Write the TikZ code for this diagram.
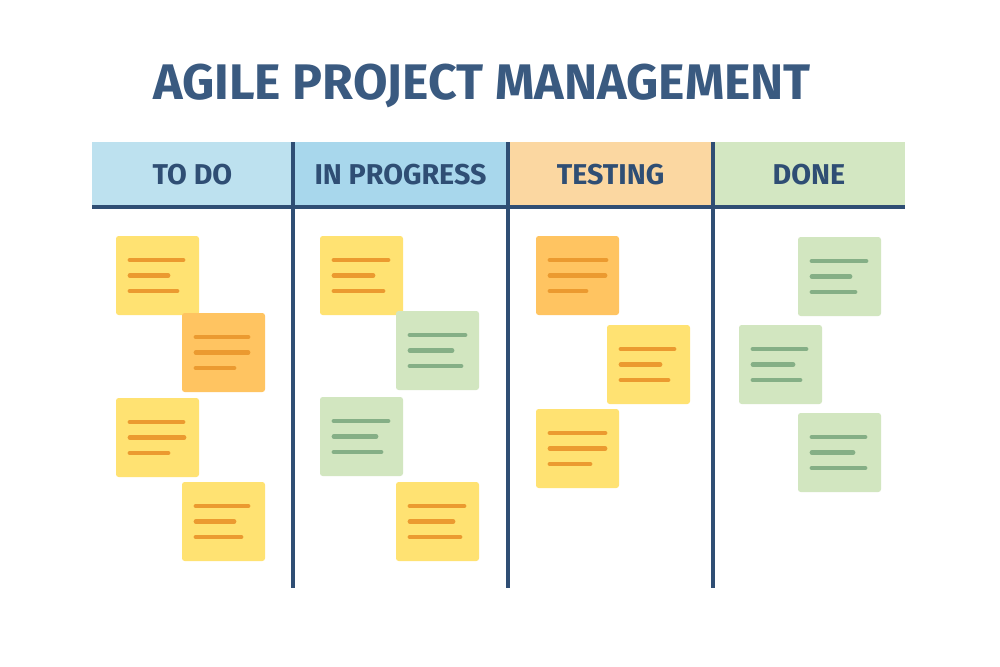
\documentclass[tikz,border=0pt]{standalone}
\usepackage{fontspec}
\setmainfont{Fira Sans}
\usepackage{xcolor}
\usepackage{tikz}
\usetikzlibrary{positioning}
\definecolor{boardBlue}{HTML}{2F4E74}
\definecolor{titleBlue}{HTML}{3A5A80}
\definecolor{todoBlue}{HTML}{BDE1EF}
\definecolor{progressBlue}{HTML}{A8D7EC}
\definecolor{testOrange}{HTML}{FBD7A1}
\definecolor{doneGreen}{HTML}{D3E7C2}
\definecolor{noteYellow}{HTML}{FFE272}
\definecolor{noteOrange}{HTML}{FFC461}
\definecolor{noteGreen}{HTML}{D2E6C0}
\definecolor{lineOrange}{HTML}{EB9A30}
\definecolor{lineGreen}{HTML}{85AF86}
\tikzset{board-line/.style={line width=2.4pt, color=boardBlue}}
\tikzset{header-cell/.style={anchor=north west, inner sep=0, outer sep=0,
    minimum height=65*0.75pt, text=boardBlue,
    font=\bfseries\fontsize{21.5}{21.5}\selectfont}}
\tikzset{note/.style={anchor=north west, inner sep=0, outer sep=0,
    rounded corners=2pt, minimum width=83*0.75pt, minimum height=79*0.75pt}}
\tikzset{yellow-note/.style={note, fill=noteYellow}}
\tikzset{orange-note/.style={note, fill=noteOrange}}
\tikzset{green-note/.style={note, fill=noteGreen}}
\tikzset{note-stroke/.style={line width=3.6pt, line cap=round}}
\tikzset{yellow-line/.style={note-stroke, color=lineOrange}}
\tikzset{orange-line/.style={note-stroke, color=lineOrange}}
\tikzset{green-line/.style={note-stroke, color=lineGreen}}
% #1 name, #2 kind, #3 #4 top left, #5 #6 #7 line lengths
\newcommand{\stickynote}[7] {
    \node[#2-note] (#1) at (#3,#4) {};
    \draw[#2-line] (#3+14,#4+24) -- ++(#5,0);
    \draw[#2-line] (#3+14,#4+39.5) -- ++(#6,0);
    \draw[#2-line] (#3+14,#4+55) -- ++(#7,0);
}

\begin{document}
\begin{tikzpicture}[x=0.75pt, y=-0.75pt]
    \useasboundingbox[fill=white] (0,0) rectangle (1000,667);

    \node[text=titleBlue, font=\bfseries\fontsize{37.5}{37.5}\selectfont] (title) at (482,86) {AGILE PROJECT MANAGEMENT};

    % header row
    \node[header-cell, fill=todoBlue, minimum width=201*0.75pt] (todo) at (92,142) {TO DO};
    \node[header-cell, fill=progressBlue, minimum width=215*0.75pt, right=0pt of todo] (progress) {IN PROGRESS};
    \node[header-cell, fill=testOrange, minimum width=205*0.75pt, right=0pt of progress] (testing) {TESTING};
    \node[header-cell, fill=doneGreen, minimum width=192*0.75pt, right=0pt of testing] (done) {DONE};

    \coordinate (bottom) at (0,588);
    \draw[board-line] (todo.south west) -- (done.south east);
    \draw[board-line] (todo.north east) -- (todo.north east |- bottom);
    \draw[board-line] (progress.north east) -- (progress.north east |- bottom);
    \draw[board-line] (testing.north east) -- (testing.north east |- bottom);

    % to do
    \stickynote{todo1}{yellow}{116}{236}{53}{38}{47}
    \stickynote{todo2}{orange}{182}{313}{52}{52}{38}
    \stickynote{todo3}{yellow}{116}{398}{53}{54}{38}
    \stickynote{todo4}{yellow}{182}{482}{52}{38}{45}

    % in progress
    \stickynote{progress1}{yellow}{320}{236}{54}{39}{49}
    \stickynote{progress2}{green}{396}{311}{55}{42}{51}
    \stickynote{progress3}{green}{320}{397}{54}{42}{47}
    \stickynote{progress4}{yellow}{396}{482}{54}{43}{50}

    % testing
    \stickynote{testing1}{orange}{536}{236}{56}{55}{36}
    \stickynote{testing2}{yellow}{607}{325}{53}{39}{47}
    \stickynote{testing3}{yellow}{536}{409}{55}{55}{40}

    % done
    \stickynote{done1}{green}{798}{237}{54}{38}{43}
    \stickynote{done2}{green}{739}{325}{53}{40}{47}
    \stickynote{done3}{green}{798}{413}{53}{41}{53}
\end{tikzpicture}
\end{document}
